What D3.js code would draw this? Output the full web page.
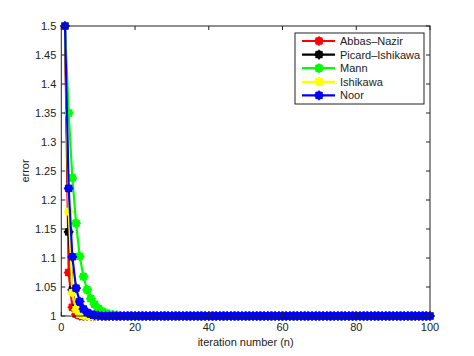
<!DOCTYPE html>
<html><head><meta charset="utf-8">
<script src="https://cdn.jsdelivr.net/npm/d3@7"></script>
<style>body{margin:0;background:#fff;}svg{display:block;font-family:"Liberation Sans",Arial,sans-serif;}</style>
</head><body>
<svg id="c" width="474" height="356"></svg>
<script>
const seriesNames = ["Abbas\u2013Nazir","Picard\u2013Ishikawa","Mann","Ishikawa","Noor"];
const seriesColors = ["#ff0000","#000000","#00ff00","#ffff00","#0000ff"];
const xTicks = [0,20,40,60,80,100];
const yTicks = [1,1.05,1.1,1.15,1.2,1.25,1.3,1.35,1.4,1.45,1.5];
const yTickLabels = ["1","1.05","1.1","1.15","1.2","1.25","1.3","1.35","1.4","1.45","1.5"];

const abbasNazir = [
1.5,1.075,1.015,1.003,1.0006,1,1,1,1,1,
1,1,1,1,1,1,1,1,1,1, 1,1,1,1,1,1,1,1,1,1,
1,1,1,1,1,1,1,1,1,1, 1,1,1,1,1,1,1,1,1,1,
1,1,1,1,1,1,1,1,1,1, 1,1,1,1,1,1,1,1,1,1,
1,1,1,1,1,1,1,1,1,1, 1,1,1,1,1,1,1,1,1,1,
1,1,1,1,1,1,1,1,1,1];
const picardIshikawa = [
1.5,1.145,1.045,1.014,1.004,1.001,1,1,1,1,
1,1,1,1,1,1,1,1,1,1, 1,1,1,1,1,1,1,1,1,1,
1,1,1,1,1,1,1,1,1,1, 1,1,1,1,1,1,1,1,1,1,
1,1,1,1,1,1,1,1,1,1, 1,1,1,1,1,1,1,1,1,1,
1,1,1,1,1,1,1,1,1,1, 1,1,1,1,1,1,1,1,1,1,
1,1,1,1,1,1,1,1,1,1];
const mann = [
1.5,1.35,1.238,1.16,1.103,1.068,1.045,1.03,1.02,1.013,
1.008,1.005,1.003,1.002,1.001,1,1,1,1,1,
1,1,1,1,1,1,1,1,1,1, 1,1,1,1,1,1,1,1,1,1,
1,1,1,1,1,1,1,1,1,1, 1,1,1,1,1,1,1,1,1,1,
1,1,1,1,1,1,1,1,1,1, 1,1,1,1,1,1,1,1,1,1,
1,1,1,1,1,1,1,1,1,1, 1,1,1,1,1,1,1,1,1,1];
const ishikawa = [
1.5,1.18,1.04,1.011,1.003,1.001,1,1,1,1,
1,1,1,1,1,1,1,1,1,1, 1,1,1,1,1,1,1,1,1,1,
1,1,1,1,1,1,1,1,1,1, 1,1,1,1,1,1,1,1,1,1,
1,1,1,1,1,1,1,1,1,1, 1,1,1,1,1,1,1,1,1,1,
1,1,1,1,1,1,1,1,1,1, 1,1,1,1,1,1,1,1,1,1,
1,1,1,1,1,1,1,1,1,1];
const noor = [
1.5,1.22,1.102,1.048,1.025,1.012,1.006,1.003,1.0015,1.0007,
1,1,1,1,1,1,1,1,1,1, 1,1,1,1,1,1,1,1,1,1,
1,1,1,1,1,1,1,1,1,1, 1,1,1,1,1,1,1,1,1,1,
1,1,1,1,1,1,1,1,1,1, 1,1,1,1,1,1,1,1,1,1,
1,1,1,1,1,1,1,1,1,1, 1,1,1,1,1,1,1,1,1,1,
1,1,1,1,1,1,1,1,1,1];
const seriesValues = [abbasNazir, picardIshikawa, mann, ishikawa, noor];

const svg = d3.select("#c");
const L = 61.3, R = 430, T = 26, B = 316;
const x = d3.scaleLinear().domain([0,100]).range([L,R]);
const y = d3.scaleLinear().domain([1,1.5]).range([B,T]);

const clip = svg.append("defs").append("clipPath").attr("id","cp")
  .append("rect").attr("x",L-6).attr("y",T-6).attr("width",R-L+12).attr("height",B-T+12);
const plot = svg.append("g").attr("clip-path","url(#cp)");
const line = d3.line().x((d,i)=>x(i+1)).y(d=>y(d));
function marker(g, cx, cy, color){
  g.append("circle").attr("cx",cx).attr("cy",cy).attr("r",4.1).attr("fill",color);
  const s = 4.8;
  g.append("path").attr("d",`M${cx-s},${cy}L${cx+s},${cy}M${cx},${cy-s}L${cx},${cy+s}M${cx-s*0.7},${cy-s*0.7}L${cx+s*0.7},${cy+s*0.7}M${cx-s*0.7},${cy+s*0.7}L${cx+s*0.7},${cy-s*0.7}`)
    .attr("stroke",color).attr("stroke-width",1.6);
}
seriesValues.forEach((vals,k)=>{
  const g = plot.append("g");
  g.append("path").datum(vals).attr("d",line).attr("fill","none")
    .attr("stroke",seriesColors[k]).attr("stroke-width",2.2);
  vals.forEach((v,i)=>marker(g, x(i+1), y(v), seriesColors[k]));
});

const ax = svg.append("g");
ax.append("rect").attr("x",L).attr("y",T).attr("width",R-L).attr("height",B-T)
  .attr("fill","none").attr("stroke","#222").attr("stroke-width",1);
const tl = 4;
xTicks.forEach(t=>{
  ax.append("line").attr("x1",x(t)).attr("x2",x(t)).attr("y1",B).attr("y2",B-tl).attr("stroke","#222");
  ax.append("line").attr("x1",x(t)).attr("x2",x(t)).attr("y1",T).attr("y2",T+tl).attr("stroke","#222");
  ax.append("text").attr("x",x(t)).attr("y",B+15).attr("text-anchor","middle")
    .attr("font-size",11).attr("fill","#222").text(t);
});
yTicks.forEach((t,i)=>{
  ax.append("line").attr("x1",L).attr("x2",L+tl).attr("y1",y(t)).attr("y2",y(t)).attr("stroke","#222");
  ax.append("line").attr("x1",R).attr("x2",R-tl).attr("y1",y(t)).attr("y2",y(t)).attr("stroke","#222");
  ax.append("text").attr("x",L-5).attr("y",y(t)+4).attr("text-anchor","end")
    .attr("font-size",11).attr("fill","#222").text(yTickLabels[i]);
});
svg.append("text").attr("x",(L+R)/2).attr("y",B+30).attr("text-anchor","middle")
  .attr("font-size",11).attr("fill","#222").text("iteration number (n)");
svg.append("text").attr("transform",`translate(29,${(T+B)/2}) rotate(-90)`)
  .attr("text-anchor","middle").attr("font-size",11).attr("fill","#222").text("error");

const lg = svg.append("g");
lg.append("rect").attr("x",295).attr("y",33).attr("width",129).attr("height",71)
  .attr("fill","#fff").attr("stroke","#222").attr("stroke-width",1);
seriesNames.forEach((n,k)=>{
  const yy = 41 + k*13.6;
  lg.append("line").attr("x1",302).attr("x2",335).attr("y1",yy).attr("y2",yy)
    .attr("stroke",seriesColors[k]).attr("stroke-width",2.2);
  marker(lg, 319, yy, seriesColors[k]);
  lg.append("text").attr("x",340).attr("y",yy+4).attr("font-size",11).attr("fill","#222").text(n);
});
</script>
</body></html>
